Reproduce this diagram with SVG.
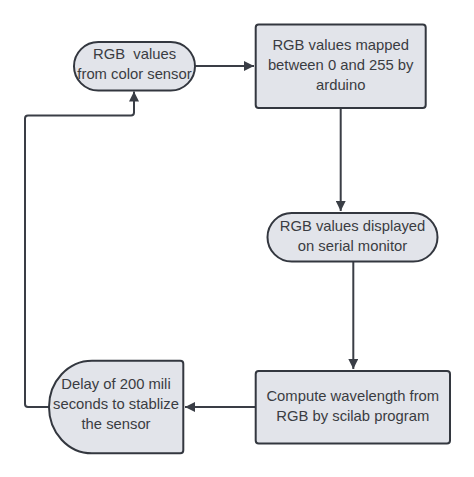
<svg xmlns="http://www.w3.org/2000/svg" width="474" height="477" viewBox="0 0 474 477">
<defs>
<style>
.n{fill:#e2e4ea;stroke:#33373f;stroke-width:2}
.c{fill:none;stroke:#3a3e46;stroke-width:2}
text{font-family:"Liberation Sans",Arial,sans-serif;font-size:14.8px;fill:#3a3c42;text-anchor:middle;white-space:pre}
</style>
<marker id="ah" viewBox="0 0 10 10" refX="10" refY="5" markerWidth="10" markerHeight="10" markerUnits="userSpaceOnUse" orient="auto">
<path d="M0,0 L10,5 L0,10 Z" fill="#3a3e46"/>
</marker>
</defs>
<rect width="474" height="477" fill="#ffffff"/>
<g id="connectors">
<path class="c" d="M195,66 H254" marker-end="url(#ah)"/>
<path class="c" d="M340.7,108 V211" marker-end="url(#ah)"/>
<path class="c" d="M353.3,262 V369" marker-end="url(#ah)"/>
<path class="c" d="M255.7,407 H185" marker-end="url(#ah)"/>
<path class="c" d="M49.5,407 H28 Q25,407 25,404 V118.5 Q25,115.5 28,115.5 H131 Q134,115.5 134,112.5 V91.5" marker-end="url(#ah)"/>
</g>
<g id="n1">
<rect class="n" x="74" y="42" width="121" height="48.5" rx="24.25"/>
<text x="134.5" y="59.3">RGB  values</text>
<text x="134.5" y="79">from color sensor</text>
</g>
<g id="n2">
<rect class="n" x="255.7" y="24.5" width="170" height="83.5" rx="3"/>
<text x="340.7" y="50.3">RGB values mapped</text>
<text x="340.7" y="70.3">between 0 and 255 by</text>
<text x="340.7" y="90.3">arduino</text>
</g>
<g id="n3">
<rect class="n" x="267.5" y="213" width="170" height="48.5" rx="24.25"/>
<text x="352.5" y="231.3">RGB values displayed</text>
<text x="352.5" y="251">on serial monitor</text>
</g>
<g id="n4">
<rect class="n" x="255.7" y="371" width="194.3" height="72.5" rx="3"/>
<text x="352.8" y="401.3">Compute wavelength from</text>
<text x="352.8" y="421.3">RGB by scilab program</text>
</g>
<g id="n5">
<path class="n" d="M92,360.7 H180.3 Q183.3,360.7 183.3,363.7 V450.3 Q183.3,453.3 180.3,453.3 H92 A43,46.3 0 0 1 92,360.7 Z"/>
<text x="116" y="389.3">Delay of 200 mili</text>
<text x="116" y="409">seconds to stablize</text>
<text x="116" y="428.6">the sensor</text>
</g>
</svg>
